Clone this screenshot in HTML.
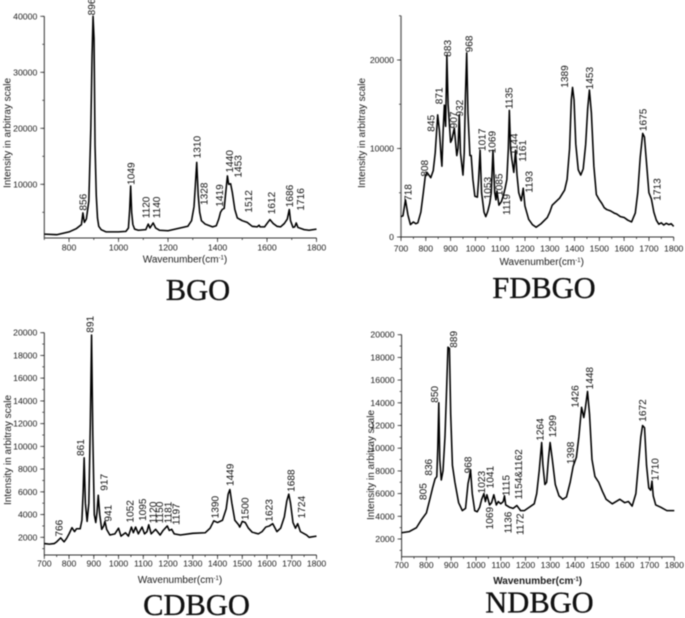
<!DOCTYPE html>
<html lang="en">
<head>
<meta charset="utf-8">
<title>Raman spectra of BGO, FDBGO, CDBGO and NDBGO</title>
<style>
html,body{margin:0;padding:0;background:#fff;width:685px;height:618px;overflow:hidden}
svg{display:block;filter:blur(0.5px)}
text{font-family:"Liberation Sans",sans-serif;fill:#1c1c1c}
.peak{font-size:10.1px;fill:#111}
.tick{font-size:8.7px}
.axis-title{font-size:10px}
.panel-title{font-family:"Liberation Serif",serif;font-size:30.5px;fill:#111;stroke:#111;stroke-width:0.35px}
</style>
</head>
<body>
<svg id="figure" width="685" height="618" viewBox="0 0 685 618" xmlns="http://www.w3.org/2000/svg">
  <g id="panel-bgo">
    <text class="axis-title" x="185" y="262.7" text-anchor="middle">Wavenumber(cm<tspan dy="-3" font-size="6">-1</tspan><tspan dy="3">)</tspan></text>
    <text class="axis-title" transform="translate(10.5 133) rotate(-90)" text-anchor="middle">Intensity in arbitray scale</text>
    <text class="panel-title" x="198" y="300" text-anchor="middle">BGO</text>
  </g>
  <g id="panel-fdbgo">
    <text class="axis-title" x="541.7" y="265" text-anchor="middle">Wavenumber(cm<tspan dy="-3" font-size="6">-1</tspan><tspan dy="3">)</tspan></text>
    <text class="axis-title" transform="translate(365 133) rotate(-90)" text-anchor="middle">Intensity in arbitray scale</text>
    <text class="panel-title" x="544" y="298" text-anchor="middle">FDBGO</text>
  </g>
  <g id="panel-cdbgo">
    <text class="axis-title" x="180" y="583" text-anchor="middle">Wavenumber(cm<tspan dy="-3" font-size="6">-1</tspan><tspan dy="3">)</tspan></text>
    <text class="axis-title" transform="translate(11 450) rotate(-90)" text-anchor="middle">Intensity in arbitray scale</text>
    <text class="panel-title" x="196.5" y="615" text-anchor="middle">CDBGO</text>
  </g>
  <g id="panel-ndbgo">
    <text class="axis-title" x="537.7" y="584" text-anchor="middle" font-weight="bold">Wavenumber(cm<tspan dy="-3" font-size="6">-1</tspan><tspan dy="3">)</tspan></text>
    <text class="axis-title" transform="translate(374 465) rotate(-90)" text-anchor="middle">Intensity in arbitray scale</text>
    <text class="panel-title" x="539.5" y="612.7" text-anchor="middle">NDBGO</text>
  </g>
</svg>
<script>
// ---------- BGO ----------
const bgoWavenumbers = [
  700,750,800,830,850,856,862,870,880,888,
  893,897,901,905,910,915,920,930,950,1000,
  1030,1040,1045,1049,1053,1058,1065,1080,1110,1120,
  1127,1140,1150,1165,1200,1240,1280,1295,1305,1310,
  1316,1322,1328,1335,1350,1380,1395,1405,1412,1419,
  1427,1432,1440,1445,1453,1460,1470,1480,1500,1520,
  1540,1560,1568,1572,1590,1605,1612,1625,1640,1655,
  1670,1682,1690,1695,1705,1712,1718,1725,1750,1770,
  1800];
const bgoIntensities = [
  1100,1000,1500,2100,2800,4900,3200,3800,7000,20000,
  33000,40000,36000,17000,8000,4000,2500,1900,1500,1500,
  1600,2200,5500,9700,5000,2800,2000,1800,1900,2900,
  2200,3100,2200,1800,1700,2100,2500,3500,6000,9500,
  13900,8000,5000,3500,2900,2400,2600,3800,5000,5500,
  5700,8000,11500,10000,10100,8500,5500,4000,3500,3200,
  2500,2400,2700,2400,2400,3300,3700,3000,2500,2400,
  3000,3800,5500,3500,2300,2400,3100,2300,1900,1800,
  2000];
const bgoPeakLabels = ["856","896","1049","1120","1140","1310","1328","1419","1440","1453","1512","1612","1686","1716"];
const bgoPeakAnchorX = [855,890,1049,1111,1154,1316,1344,1408,1448,1483,1524,1618,1691,1734];
const bgoPeakAnchorY = [5300,40170,9900,3930,3930,14640,6300,6000,12080,11190,4940,4650,5900,5300];
const bgoXTickValues = [800,1000,1200,1400,1600,1800];
const bgoYTickValues = [10000,20000,30000,40000];

// ---------- FDBGO ----------
const fdbgoWavenumbers = [
  700,708,718,728,738,750,760,768,780,790,
  798,805,820,830,838,848,855,862,865,870,
  875,880,885,890,900,905,915,925,930,935,
  940,950,955,960,965,970,978,983,990,998,
  1008,1013,1019,1025,1035,1042,1050,1058,1064,1071,
  1078,1083,1087,1095,1105,1113,1120,1127,1133,1137,
  1142,1147,1155,1162,1168,1175,1185,1193,1200,1215,
  1230,1245,1265,1290,1300,1310,1340,1360,1370,1380,
  1387,1392,1398,1405,1415,1425,1435,1445,1453,1460,
  1468,1478,1488,1500,1510,1520,1530,1545,1560,1570,
  1585,1600,1615,1630,1645,1655,1665,1675,1682,1690,
  1700,1710,1720,1730,1740,1750,1760,1770,1780,1790,
  1800];
const fdbgoIntensities = [
  2300,2400,4200,2500,1400,1700,1500,1600,2800,5000,
  6900,7300,6700,7500,9500,13800,12000,9000,8000,12000,
  14900,12500,20500,15000,10700,11000,12300,9200,10000,13800,
  9500,7000,9500,16000,20800,14000,9200,9200,6500,4600,
  4500,6500,9800,5000,2800,2300,2900,3800,5000,9800,
  5000,4200,5200,3600,4000,4700,5500,6500,10000,14300,
  10000,8800,7300,9800,7000,5000,4100,5500,3500,2000,
  1400,1100,1500,2200,2800,3600,4400,5300,6500,10000,
  15500,16900,15500,10500,7600,7000,7700,10500,14500,16600,
  14000,8000,4800,4200,3800,3300,3100,2950,2700,2600,
  2300,2200,1900,1700,2700,5000,9000,11700,11300,8500,
  5000,4300,2800,1900,1450,1600,1350,1550,1400,1500,
  1200];
const fdbgoPeakLabels = ["718","808","845","871","883","907","932","968","1017","1053","1069","1085","1119","1135","1144","1161","1193","1389","1453","1675","1713"];
const fdbgoPeakAnchorX = [727,794,821,852,888,911,935,974,1027,1048,1067,1095,1125,1136,1156,1190,1216,1360,1459,1676,1733];
const fdbgoPeakAnchorY = [4070,6816,11900,15000,20370,12280,13600,20860,9716,4255,9450,4630,2485,14460,9260,8500,5000,16870,16680,11970,4100];
const fdbgoXTickValues = [700,800,900,1000,1100,1200,1300,1400,1500,1600,1700,1800];
const fdbgoYTickValues = [0,10000,20000];

// ---------- CDBGO ----------
const cdbgoWavenumbers = [
  700,720,740,750,766,780,790,800,812,822,
  830,845,852,857,861,866,873,880,886,891,
  896,902,908,913,918,924,932,940,945,952,
  965,985,1000,1010,1028,1040,1052,1060,1069,1080,
  1095,1105,1115,1122,1132,1150,1168,1180,1197,1205,
  1215,1225,1250,1300,1350,1370,1385,1400,1420,1435,
  1443,1450,1458,1470,1485,1490,1500,1512,1525,1540,
  1565,1580,1595,1610,1623,1640,1655,1670,1680,1688,
  1695,1705,1715,1724,1735,1760,1770,1800];
const cdbgoIntensities = [
  1450,1400,1450,1600,1950,1600,1900,2300,2850,2500,
  2750,2750,3500,6000,9000,5000,3400,5000,12000,19800,
  11000,4000,3300,4200,5700,4000,2700,3000,3400,2700,
  2200,2300,2800,2100,2400,2100,2900,2400,2900,2300,
  2900,2300,2500,3100,2300,2700,2200,2600,3000,2600,
  2700,2300,2200,2350,2400,2800,3450,3300,3500,4500,
  5800,6200,5000,3500,3100,2900,3400,3300,2800,2450,
  2300,2500,2900,3000,3200,2500,2800,3800,5200,5800,
  5000,3300,2800,3200,2500,2200,2000,2100];
const cdbgoPeakLabels = ["766","861","891","917","941","1052","1095","1120","1150","1181","1197","1390","1449","1500","1623","1688","1724"];
const cdbgoPeakAnchorX = [758,846,885,940,957,1046,1096,1138,1165,1200,1232,1390,1451,1511,1608,1696,1738];
const cdbgoPeakAnchorY = [2060,9150,20000,6100,3380,3290,3440,3230,3230,3230,3080,3670,6510,3520,3380,6000,3670];
const cdbgoXTickValues = [700,800,900,1000,1100,1200,1300,1400,1500,1600,1700,1800];
const cdbgoYTickValues = [2000,4000,6000,8000,10000,12000,14000,16000,18000,20000];

// ---------- NDBGO ----------
const ndbgoWavenumbers = [
  700,730,760,780,800,815,825,835,842,846,
  850,854,860,867,875,882,887,893,898,905,
  915,930,945,958,968,973,978,985,995,1005,
  1015,1023,1032,1038,1044,1055,1063,1072,1082,1090,
  1100,1110,1115,1120,1135,1150,1165,1180,1195,1215,
  1235,1245,1255,1265,1270,1278,1285,1292,1299,1308,
  1320,1335,1350,1365,1380,1392,1405,1415,1426,1435,
  1441,1450,1458,1468,1480,1495,1510,1525,1550,1580,
  1600,1615,1630,1645,1655,1665,1672,1680,1688,1697,
  1705,1710,1715,1725,1745,1770,1800];
const ndbgoIntensities = [
  2550,2650,3000,3700,4300,5600,6500,7300,7500,10000,
  14000,9000,7200,8000,11000,15500,18900,18800,13000,8500,
  7000,5200,4500,4700,6900,7400,8100,6000,4500,4400,
  4800,5500,6000,5300,5900,5000,5200,5900,5000,5300,
  5100,5300,5800,5000,4800,4700,4950,4500,4500,4800,
  5100,6000,8000,10500,8500,6800,7000,9000,10500,9000,
  6800,5800,5500,5700,7000,8400,9200,11000,13600,12700,
  13500,15000,13000,9000,7500,7000,6200,5500,5100,5500,
  5200,5300,4900,6000,8500,11000,12000,11800,8500,6500,
  6300,7100,5800,5000,4800,4500,4500];
const ndbgoPeakLabels = ["805","836","850","889","968","1023","1041","1069","1115","1136","1154&1162","1172","1264","1299","1398","1426","1448","1672","1710"];
const ndbgoPeakAnchorX = [785,808,832,908,968,1021,1056,1054,1120,1128,1171,1177,1258,1308,1380,1399,1457,1672,1722];
const ndbgoPeakAnchorY = [5435,7580,14000,18850,7780,6020,6460,2850,5790,2500,5490,2350,10660,10950,8600,13570,15180,12330,7140];
const ndbgoXTickValues = [700,800,900,1000,1100,1200,1300,1400,1500,1600,1700,1800];
const ndbgoYTickValues = [2000,4000,6000,8000,10000,12000,14000,16000,18000,20000];

const SVG_NS = "http://www.w3.org/2000/svg";

function drawPanel(p) {
  const group = document.getElementById("panel-" + p.key);
  const xScale = v => p.left + (v - 700) / 1100 * (p.right - p.left);
  const yScale = v => p.bottom - (v - p.yMin) / (p.yMax - p.yMin) * (p.bottom - p.top);

  const yAxis = document.createElementNS(SVG_NS, "line");
  
  
  yAxis.setAttribute("x1", p.left);
  yAxis.setAttribute("x2", p.left);
  yAxis.setAttribute("y1", p.top);
  yAxis.setAttribute("y2", p.bottom + 0.5);
  yAxis.setAttribute("stroke", p.yAxisColor);
  yAxis.setAttribute("stroke-width", p.yAxisWidth);
  group.appendChild(yAxis);

  const xAxis = document.createElementNS(SVG_NS, "line");
  
  
  xAxis.setAttribute("x1", p.left);
  xAxis.setAttribute("x2", p.right);
  xAxis.setAttribute("y1", p.bottom);
  xAxis.setAttribute("y2", p.bottom);
  xAxis.setAttribute("stroke", "#333");
  xAxis.setAttribute("stroke-width", "1");
  group.appendChild(xAxis);

  // minor x ticks
  for (let v = 700; v <= 1800; v += p.xMinorStep) {
    const t = document.createElementNS(SVG_NS, "line");
    
    
    t.setAttribute("x1", xScale(v));
    t.setAttribute("x2", xScale(v));
    t.setAttribute("y1", p.bottom);
    t.setAttribute("y2", p.bottom + 2);
    t.setAttribute("stroke", "#333");
    t.setAttribute("stroke-width", "0.8");
    group.appendChild(t);
  }
  // major x ticks and labels
  p.xTicks.forEach(v => {
    const t = document.createElementNS(SVG_NS, "line");
    
    
    t.setAttribute("x1", xScale(v));
    t.setAttribute("x2", xScale(v));
    t.setAttribute("y1", p.bottom);
    t.setAttribute("y2", p.bottom + 4);
    t.setAttribute("stroke", "#333");
    t.setAttribute("stroke-width", "0.8");
    group.appendChild(t);
    const l = document.createElementNS(SVG_NS, "text");
    
    
    l.setAttribute("class", "tick");
    l.setAttribute("x", xScale(v));
    l.setAttribute("y", p.xLabelBase);
    l.setAttribute("text-anchor", "middle");
    l.textContent = v;
    group.appendChild(l);
  });
  // minor y ticks
  const yFirst = Math.ceil(p.yMin / p.yMinorStep) * p.yMinorStep;
  for (let v = yFirst; v <= p.yMax; v += p.yMinorStep) {
    const t = document.createElementNS(SVG_NS, "line");
    
    
    t.setAttribute("x1", p.left - 2);
    t.setAttribute("x2", p.left);
    t.setAttribute("y1", yScale(v));
    t.setAttribute("y2", yScale(v));
    t.setAttribute("stroke", "#333");
    t.setAttribute("stroke-width", "0.8");
    group.appendChild(t);
  }
  // major y ticks and labels
  p.yTicks.forEach(v => {
    const t = document.createElementNS(SVG_NS, "line");
    
    
    t.setAttribute("x1", p.left - 4);
    t.setAttribute("x2", p.left);
    t.setAttribute("y1", yScale(v));
    t.setAttribute("y2", yScale(v));
    t.setAttribute("stroke", "#333");
    t.setAttribute("stroke-width", "0.8");
    group.appendChild(t);
    const l = document.createElementNS(SVG_NS, "text");
    
    
    l.setAttribute("class", "tick");
    l.setAttribute("x", p.left - 7);
    l.setAttribute("y", yScale(v) + 3);
    l.setAttribute("text-anchor", "end");
    l.textContent = v;
    group.appendChild(l);
  });

  // spectrum line
  const line = document.createElementNS(SVG_NS, "polyline");
  
  
  line.setAttribute("fill", "none");
  line.setAttribute("stroke", "#000");
  line.setAttribute("stroke-width", "1.55");
  line.setAttribute("stroke-linejoin", "round");
  line.setAttribute("points", p.xs.map((x, i) => xScale(x).toFixed(2) + "," + yScale(p.ys[i]).toFixed(2)).join(" "));
  group.appendChild(line);

  // peak labels
  p.labels.forEach((text, i) => {
    const l = document.createElementNS(SVG_NS, "text");
    
    
    l.setAttribute("class", "peak");
    const px = xScale(p.labelX[i]) + 3.6;
    const py = yScale(p.labelY[i]);
    l.setAttribute("transform", "translate(" + px.toFixed(2) + " " + py.toFixed(2) + ") rotate(-90)");
    l.textContent = text;
    group.appendChild(l);
  });
}

drawPanel({key:"bgo", left:44.3, right:316.5, top:16.3, bottom:238, yMin:411, yMax:40000,
  yMinorStep:5000, xMinorStep:100, xLabelBase:250.7, yAxisColor:"#333", yAxisWidth:1,
  xs:bgoWavenumbers, ys:bgoIntensities, labels:bgoPeakLabels, labelX:bgoPeakAnchorX, labelY:bgoPeakAnchorY,
  xTicks:bgoXTickValues, yTicks:bgoYTickValues});
drawPanel({key:"fdbgo", left:401, right:673.7, top:15.75, bottom:237, yMin:0, yMax:25000,
  yMinorStep:5000, xMinorStep:50, xLabelBase:251.7, yAxisColor:"#666", yAxisWidth:1.4,
  xs:fdbgoWavenumbers, ys:fdbgoIntensities, labels:fdbgoPeakLabels, labelX:fdbgoPeakAnchorX, labelY:fdbgoPeakAnchorY,
  xTicks:fdbgoXTickValues, yTicks:fdbgoYTickValues});
drawPanel({key:"cdbgo", left:44.3, right:316.5, top:332.7, bottom:555, yMin:443, yMax:20000,
  yMinorStep:1000, xMinorStep:50, xLabelBase:566.7, yAxisColor:"#333", yAxisWidth:1,
  xs:cdbgoWavenumbers, ys:cdbgoIntensities, labels:cdbgoPeakLabels, labelX:cdbgoPeakAnchorX, labelY:cdbgoPeakAnchorY,
  xTicks:cdbgoXTickValues, yTicks:cdbgoYTickValues});
drawPanel({key:"ndbgo", left:401.6, right:674.3, top:334.7, bottom:556.7, yMin:441, yMax:20000,
  yMinorStep:1000, xMinorStep:50, xLabelBase:568, yAxisColor:"#333", yAxisWidth:1,
  xs:ndbgoWavenumbers, ys:ndbgoIntensities, labels:ndbgoPeakLabels, labelX:ndbgoPeakAnchorX, labelY:ndbgoPeakAnchorY,
  xTicks:ndbgoXTickValues, yTicks:ndbgoYTickValues});
</script>
</body>
</html>
